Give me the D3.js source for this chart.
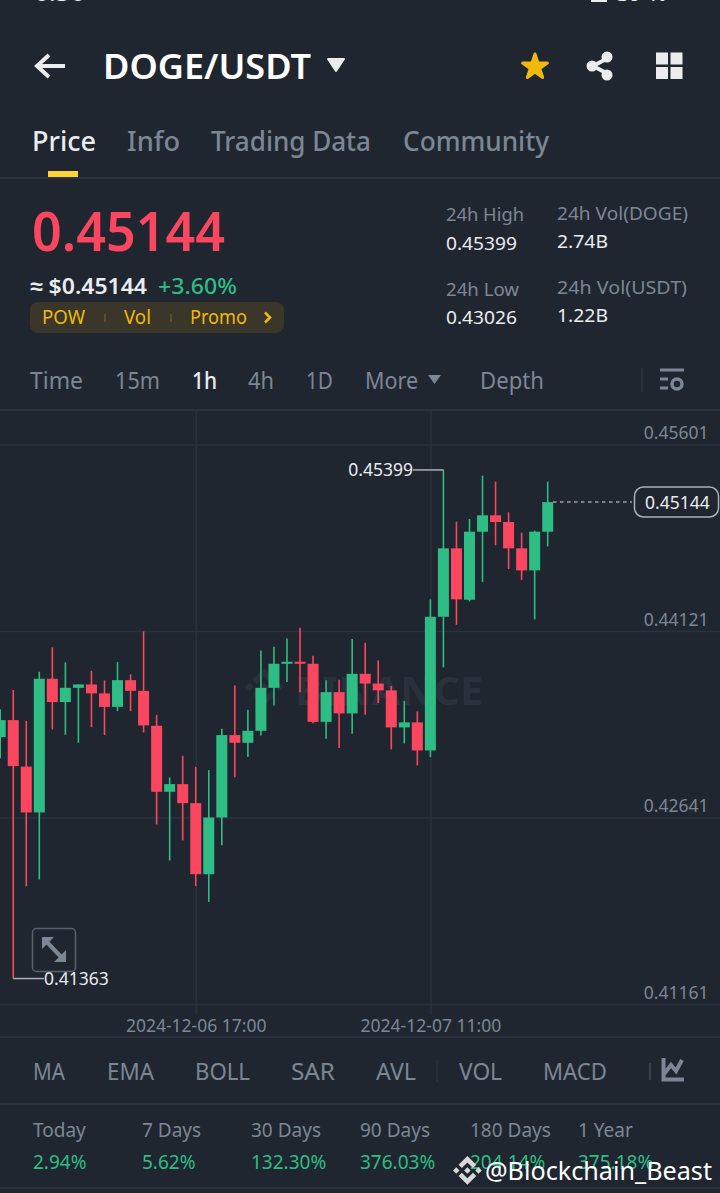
<!DOCTYPE html>
<html lang="en">
<head>
  <meta charset="UTF-8">
  <title>DOGE/USDT</title>
  <style>
    html, body { margin: 0; padding: 0; background: #1f2630; overflow: hidden; }
    svg { display: block; }
    text { font-family: "Noto Sans", sans-serif; }
    .domain { display: none; }
  </style>
  <script src="https://d3js.org/d3.v7.min.js"></script>
</head>
<body>
  <svg width="720" height="1193"></svg>

  <script>
    // hourly candles, 2024-12-06 02:00 to 2024-12-07 20:00
    const times = [
      "12-06 02:00", "12-06 03:00", "12-06 04:00", "12-06 05:00", "12-06 06:00", "12-06 07:00",
      "12-06 08:00", "12-06 09:00", "12-06 10:00", "12-06 11:00", "12-06 12:00", "12-06 13:00",
      "12-06 14:00", "12-06 15:00", "12-06 16:00", "12-06 17:00", "12-06 18:00", "12-06 19:00",
      "12-06 20:00", "12-06 21:00", "12-06 22:00", "12-06 23:00", "12-07 00:00", "12-07 01:00",
      "12-07 02:00", "12-07 03:00", "12-07 04:00", "12-07 05:00", "12-07 06:00", "12-07 07:00",
      "12-07 08:00", "12-07 09:00", "12-07 10:00", "12-07 11:00", "12-07 12:00", "12-07 13:00",
      "12-07 14:00", "12-07 15:00", "12-07 16:00", "12-07 17:00", "12-07 18:00", "12-07 19:00",
      "12-07 20:00"
    ];
    const opens = [
      0.43279, 0.43414, 0.43045, 0.42681, 0.43742, 0.43557, 0.43670, 0.43697, 0.43626, 0.43519, 0.43731,
      0.43646, 0.43369, 0.42845, 0.42906, 0.42755, 0.42191, 0.42641, 0.43295, 0.43234, 0.43329, 0.43670,
      0.43861, 0.43877, 0.43861, 0.43400, 0.43636, 0.43467, 0.43781, 0.43704, 0.43650, 0.43356, 0.43396,
      0.43173, 0.44234, 0.44777, 0.44369, 0.44909, 0.45039, 0.44986, 0.44777, 0.44602, 0.44909
    ];
    const highs = [
      0.43501, 0.43652, 0.43408, 0.43797, 0.43991, 0.43872, 0.43697, 0.43805, 0.43729, 0.43874, 0.43777,
      0.44118, 0.43456, 0.42959, 0.43130, 0.43043, 0.43017, 0.43345, 0.43689, 0.43496, 0.43967, 0.43996,
      0.44062, 0.44147, 0.43924, 0.43731, 0.43734, 0.44057, 0.44027, 0.43888, 0.43684, 0.43565, 0.43483,
      0.44372, 0.45399, 0.44988, 0.45010, 0.45353, 0.45306, 0.45063, 0.44901, 0.44917, 0.45306
    ];
    const lows = [
      0.43112, 0.41363, 0.42096, 0.42149, 0.43340, 0.43297, 0.43234, 0.43358, 0.43295, 0.43485, 0.43485,
      0.43316, 0.42586, 0.42300, 0.42459, 0.42096, 0.41971, 0.42421, 0.42961, 0.43122, 0.43292, 0.43530,
      0.43716, 0.43634, 0.43388, 0.43265, 0.43192, 0.43305, 0.43456, 0.43549, 0.43181, 0.43229, 0.43054,
      0.43120, 0.43832, 0.44170, 0.44356, 0.44509, 0.44801, 0.44613, 0.44525, 0.44213, 0.44793
    ];
    const closes = [
      0.43414, 0.43049, 0.42681, 0.43742, 0.43557, 0.43670, 0.43697, 0.43626, 0.43519, 0.43731, 0.43646,
      0.43372, 0.42845, 0.42906, 0.42755, 0.42191, 0.42641, 0.43295, 0.43234, 0.43329, 0.43670, 0.43861,
      0.43877, 0.43861, 0.43400, 0.43636, 0.43467, 0.43781, 0.43704, 0.43650, 0.43356, 0.43396, 0.43173,
      0.44234, 0.44777, 0.44372, 0.44909, 0.45039, 0.44986, 0.44777, 0.44602, 0.44909, 0.45144
    ];
    const priceTicks = [0.45601, 0.44121, 0.42641, 0.41161];
    const timeTicks = ["12-06 17:00", "12-07 11:00"];
    const lastPrice = 0.45144, dayHigh = 0.45399, dayLow = 0.41363;

    const tabs = ["Price", "Info", "Trading Data", "Community"];
    const intervals = ["Time", "15m", "1h", "4h", "1D", "More", "Depth"];
    const indicators = ["MA", "EMA", "BOLL", "SAR", "AVL", "VOL", "MACD"];
    const periods = ["Today", "7 Days", "30 Days", "90 Days", "180 Days", "1 Year"];
    const periodValues = ["2.94%", "5.62%", "132.30%", "376.03%", "204.14%", "375.18%"];

    const bg = "#1f2630", grid = "#2b323d", red = "#fb4660", green = "#2ebd85",
          gray = "#7d8694", white = "#eaecef", yellow = "#f0b90b";
    const binanceLogo = "M9.8 13.4 16 7.2l6.2 6.2 3.6-3.6L16 0 6.2 9.8zM0 16l3.6-3.6L7.2 16l-3.6 3.6zM9.8 18.6 16 24.8l6.2-6.2 3.6 3.6L16 32l-9.8-9.8zM24.8 16l3.6-3.6L32 16l-3.6 3.6zM19.6 16 16 12.4 12.4 16 16 19.6z";

    const svg = d3.select("svg");
    svg.append("rect").attr("width", 720).attr("height", 1193).attr("fill", bg);

    // w squeezes or stretches the text to the width measured on the reference
    function label(x, y, str, size, fill, weight, anchor, w) {
      const t = svg.append("text").attr("x", x).attr("y", y).text(str)
        .attr("font-size", size).attr("fill", fill)
        .attr("font-weight", weight || 400)
        .attr("text-anchor", anchor || "start");
      if (w) t.attr("textLength", w).attr("lengthAdjust", "spacingAndGlyphs");
      return t;
    }
    function hline(y) {
      svg.append("line").attr("x1", 0).attr("x2", 720).attr("y1", y).attr("y2", y)
        .attr("stroke", grid).attr("stroke-width", 2);
    }

    // status bar, cut off by the top edge
    label(34, 1, "6:36", 25, white, 500, "start", 51);
    svg.append("rect").attr("x", 591).attr("y", 0).attr("width", 16).attr("height", 2).attr("fill", white);
    label(617, 0.5, "39 %", 22, white, 500);

    // header
    svg.append("path").attr("d", "M65 66H38M49 55L37 66L49 77").attr("fill", "none")
      .attr("stroke", white).attr("stroke-width", 4);
    label(103, 79, "DOGE/USDT", 34, "#fff", 600, "start", 208);
    svg.append("path").attr("d", "M328 59H344L336 71Z").attr("fill", white)
      .attr("stroke", white).attr("stroke-width", 2).attr("stroke-linejoin", "round");
    svg.append("path").attr("d", d3.symbol(d3.symbolStar, 190)()).attr("transform", "translate(535,67)")
      .attr("fill", yellow).attr("stroke", yellow).attr("stroke-width", 3).attr("stroke-linejoin", "round");
    // share icon
    svg.append("path").attr("d", "M610 57L593 66L610 75").attr("fill", "none").attr("stroke", white).attr("stroke-width", 4);
    [[607, 57], [592, 66], [607, 75]].forEach(c =>
      svg.append("circle").attr("cx", c[0]).attr("cy", c[1]).attr("r", 5.5).attr("fill", white));
    // grid icon
    [[656, 52.5], [670.5, 52.5], [656, 67], [670.5, 67]].forEach(c =>
      svg.append("rect").attr("x", c[0]).attr("y", c[1]).attr("width", 12).attr("height", 12).attr("fill", white));

    const tabX = [32, 127, 211, 403], tabW = [64, 53, 160, 146];
    tabs.forEach((t, i) => label(tabX[i], 151, t, 27, i ? gray : white, 500, "start", tabW[i]));
    svg.append("rect").attr("x", 48).attr("y", 171).attr("width", 30).attr("height", 6).attr("fill", "#fcd535");
    hline(178);

    // price block
    label(32, 251, "0.45144", 55, red, 600, "start", 193);
    label(30, 294, "≈ $0.45144", 22, white, 600, "start", 117);
    label(158, 294, "+3.60%", 22, green, 500, "start", 79);
    svg.append("rect").attr("x", 30).attr("y", 302).attr("width", 254).attr("height", 31).attr("rx", 8).attr("fill", "#3a362a");
    label(42, 324, "POW", 19, yellow, 400, "start", 43);
    label(124, 324, "Vol", 19, yellow, 400, "start", 27);
    label(190, 324, "Promo", 19, yellow, 400, "start", 57);
    [105, 171].forEach(x => svg.append("line").attr("x1", x).attr("x2", x).attr("y1", 314).attr("y2", 322).attr("stroke", "#6b5a20").attr("stroke-width", 1.5));
    svg.append("path").attr("d", "M265 312.500L270 317.500L265 322.500").attr("fill", "none").attr("stroke", yellow).attr("stroke-width", 2.500);

    label(446, 221, "24h High", 18.5, gray, 400, "start", 78);
    label(446, 250, "0.45399", 17.5, white, 400, "start", 71);
    label(446, 296, "24h Low", 18.5, gray, 400, "start", 73);
    label(446, 324, "0.43026", 17.5, white, 400, "start", 71);
    label(557, 220, "24h Vol(DOGE)", 18, gray, 400, "start", 131);
    label(557, 248, "2.74B", 17.5, white, 400, "start", 51);
    label(557, 294, "24h Vol(USDT)", 18, gray, 400, "start", 130);
    label(557, 322, "1.22B", 17.5, white, 400, "start", 51);

    // interval row
    const intervalX = [30, 115, 192, 248, 306, 365, 480], intervalW = [53, 45, 25, 26, 27, 53, 64];
    intervals.forEach((t, i) => label(intervalX[i], 389, t, 23, t === "1h" ? white : gray, t === "1h" ? 500 : 400, "start", intervalW[i]));
    svg.append("path").attr("d", "M428 375H441L434.500 384Z").attr("fill", gray);
    svg.append("line").attr("x1", 642).attr("x2", 642).attr("y1", 368).attr("y2", 392).attr("stroke", grid).attr("stroke-width", 1.500);
    svg.append("path").attr("d", "M660 370H684M660 379H668M660 388H668").attr("stroke", gray).attr("stroke-width", 3);
    svg.append("circle").attr("cx", 677).attr("cy", 384).attr("r", 5).attr("fill", "none").attr("stroke", gray).attr("stroke-width", 3.500);
    hline(410);

    // chart
    const x = d3.scalePoint().domain(times).range([0.2, 547.7]);
    const y = d3.scaleLinear().domain([0.45601, 0.41161]).range([444.5, 1004]);

    const gridY = svg.append("g")
      .call(d3.axisRight(y).tickValues(priceTicks).tickSize(720).tickFormat(d3.format(".5f")));
    gridY.selectAll("line").attr("stroke", grid).attr("stroke-width", 1.500);
    gridY.selectAll("text").attr("x", 708.5).attr("dy", "-6").attr("text-anchor", "end")
      .attr("font-size", 17.5).attr("font-family", "Noto Sans").attr("fill", gray);

    const gridX = svg.append("g").attr("transform", "translate(0,411)")
      .call(d3.axisBottom(x).tickValues(timeTicks).tickSize(604).tickFormat(d => "2024-" + d));
    gridX.selectAll("line").attr("stroke", grid).attr("stroke-width", 1.500);
    gridX.selectAll("text").attr("dy", "0").attr("y", 621).attr("font-size", 17.5)
      .attr("font-family", "Noto Sans").attr("fill", gray);

    // exchange watermark behind the candles
    label(295, 705, "BINANCE", 39, "#2a313c", 700, "start", 188);
    svg.append("path").attr("d", binanceLogo).attr("transform", "translate(245,668) scale(1.19)").attr("fill", "#2a313c");

    const candles = svg.append("g").selectAll("g").data(times).join("g");
    candles.append("line")
      .attr("x1", d => x(d)).attr("x2", d => x(d))
      .attr("y1", (d, i) => y(highs[i])).attr("y2", (d, i) => y(lows[i]))
      .attr("stroke", (d, i) => closes[i] >= opens[i] ? green : red).attr("stroke-width", 1.600);
    candles.append("rect")
      .attr("x", d => x(d) - 5.500).attr("width", 11)
      .attr("y", (d, i) => y(Math.max(opens[i], closes[i])))
      .attr("height", (d, i) => Math.abs(y(opens[i]) - y(closes[i])))
      .attr("fill", (d, i) => closes[i] >= opens[i] ? green : red);

    // high / low / last markers
    const hx = x(times[highs.indexOf(dayHigh)]), lx = x(times[lows.indexOf(dayLow)]);
    svg.append("line").attr("x1", 413).attr("x2", hx).attr("y1", y(dayHigh)).attr("y2", y(dayHigh)).attr("stroke", "#aab0b8").attr("stroke-width", 1.500);
    label(413, y(dayHigh) + 6, "0.45399", 17.5, white, 400, "end");
    svg.append("line").attr("x1", lx).attr("x2", 44).attr("y1", y(dayLow)).attr("y2", y(dayLow)).attr("stroke", "#aab0b8").attr("stroke-width", 1.500);
    label(44, y(dayLow) + 6, "0.41363", 17.5, white);
    svg.append("line").attr("x1", 553).attr("x2", 632).attr("y1", y(lastPrice)).attr("y2", y(lastPrice))
      .attr("stroke", "#9aa1ab").attr("stroke-width", 1.500).attr("stroke-dasharray", "3.500 3.500");
    svg.append("rect").attr("x", 634.500).attr("y", 487).attr("width", 84).attr("height", 30).attr("rx", 9)
      .attr("fill", bg).attr("stroke", "#aab0b8").attr("stroke-width", 1.500);
    label(645, y(lastPrice) + 6.500, "0.45144", 17.5, white);

    // expand button
    svg.append("rect").attr("x", 32.500).attr("y", 928.500).attr("width", 43).attr("height", 43).attr("rx", 4)
      .attr("fill", "none").attr("stroke", "#5a616c").attr("stroke-width", 1.500);
    svg.append("path").attr("d", "M42 937H54L42 949ZM66 962H54L66 950Z").attr("fill", gray);
    svg.append("path").attr("d", "M45 940L63 959").attr("stroke", gray).attr("stroke-width", 4);

    // lower rows
    hline(1037);
    const indicatorX = [33, 107, 195, 291, 376, 459, 543], indicatorW = [32, 47, 55, 44, 40, 43, 64];
    indicators.forEach((t, i) => label(indicatorX[i], 1080, t, 23, gray, 400, "start", indicatorW[i]));
    svg.append("line").attr("x1", 437).attr("x2", 437).attr("y1", 1060).attr("y2", 1082).attr("stroke", grid).attr("stroke-width", 1.500);
    svg.append("line").attr("x1", 650).attr("x2", 650).attr("y1", 1063).attr("y2", 1080).attr("stroke", "#39404b").attr("stroke-width", 2);
    svg.append("path").attr("d", "M663.500 1058V1079.500H684M664 1074L671 1065L676 1071L682 1060").attr("fill", "none").attr("stroke", gray).attr("stroke-width", 4);
    hline(1104);

    const periodX = [33, 142, 251, 360, 470, 578];
    periods.forEach((t, i) => label(periodX[i], 1137, t, 19, gray));
    periodValues.forEach((t, i) => label(periodX[i], 1169, t, 19, green));
    hline(1188);

    // author watermark
    svg.append("path").attr("d", binanceLogo).attr("transform", "translate(453,1156) scale(0.9)").attr("fill", "#d8d8d8");
    label(485, 1180, "@Blockchain_Beast", 25, "#fff", 400, "start", 227);
  </script>
</body>
</html>
